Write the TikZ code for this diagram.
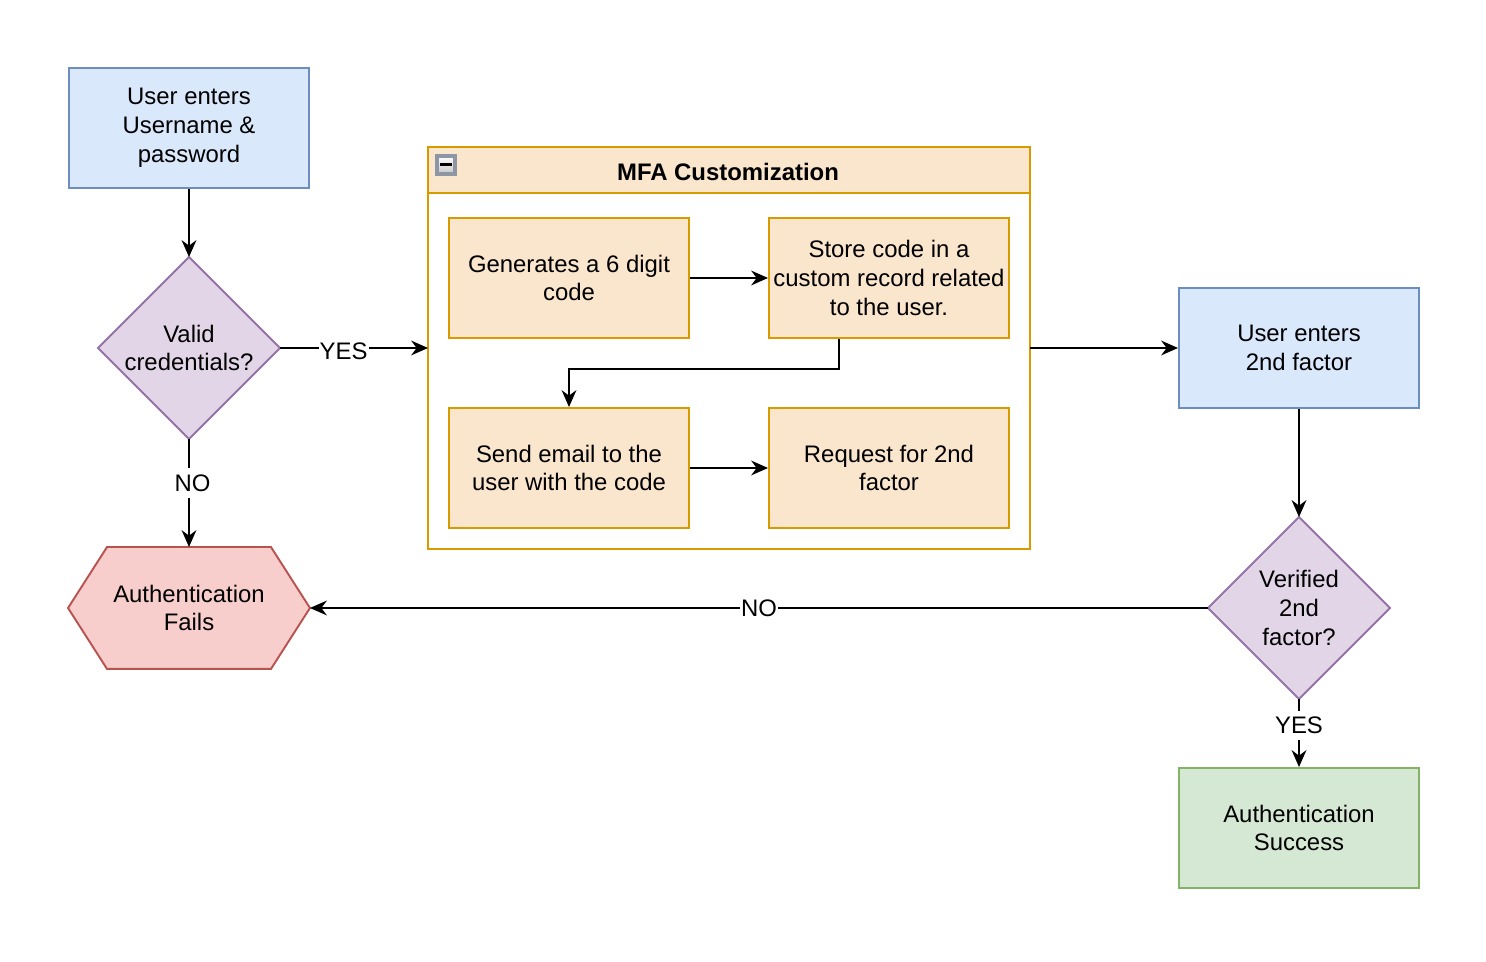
\documentclass[tikz,border=0pt]{standalone}
\usepackage{fontspec}
\setmainfont{Liberation Sans}
\usetikzlibrary{positioning,arrows.meta,calc}
\definecolor{bluefill}{HTML}{DAE8FC}
\definecolor{blueline}{HTML}{6C8EBF}
\definecolor{purplefill}{HTML}{E1D5E7}
\definecolor{purpleline}{HTML}{9673A6}
\definecolor{redfill}{HTML}{F8CECC}
\definecolor{redline}{HTML}{B85450}
\definecolor{greenfill}{HTML}{D5E8D4}
\definecolor{greenline}{HTML}{82B366}
\definecolor{orangefill}{HTML}{FAE5CD}
\definecolor{orangeline}{HTML}{D79B00}
\definecolor{iconline}{HTML}{8C96A5}

\begin{document}
\begin{tikzpicture}[>={Stealth[length=4.8pt,width=4.2pt]}, line width=0.55pt,
    every node/.style={font=\fontsize{6.8pt}{8.2pt}\selectfont, align=center, inner sep=0pt},
    box/.style={draw, minimum width=2.4cm, minimum height=1.2cm},
    bluebox/.style={box, fill=bluefill, draw=blueline},
    greenbox/.style={box, fill=greenfill, draw=greenline},
    orangebox/.style={box, fill=orangefill, draw=orangeline},
    decision/.style={minimum width=1.8cm, minimum height=1.8cm},
    hexbox/.style={minimum width=2.4cm, minimum height=1.2cm},
    lbl/.style={fill=white, inner xsep=0.3pt, inner ysep=1.8pt}]
  \useasboundingbox (0,0) rectangle (14.86,-9.62);

  % left column
  \node[bluebox] (login) at (1.89,-1.28) {User enters\\Username \&\\password};
  \node[decision] (valid) at (1.89,-3.48) {};
  \node[hexbox] (fails) at (1.89,-6.08) {};

  % MFA container
  \node[minimum width=6cm, minimum height=4cm] (mfa) at (7.29,-3.48) {};
  \draw[orangeline, fill=white] (mfa.north west) rectangle (mfa.south east);
  \draw[orangeline, fill=orangefill] (mfa.north west) rectangle ($(mfa.north east)+(0,-0.46)$);
  \node[font=\fontsize{6.8pt}{8.2pt}\selectfont\bfseries] (mfatitle) at (7.28,-1.72) {MFA Customization};
  \draw[iconline, line width=1pt, top color=white, bottom color=gray!45]
    ($(mfa.north west)+(0.09,-0.09)$) rectangle ($(mfa.north west)+(0.27,-0.27)$);
  \draw[black, line width=1pt] ($(mfa.north west)+(0.12,-0.175)$) -- ($(mfa.north west)+(0.24,-0.175)$);

  \node[orangebox] (gen) at (5.69,-2.78) {Generates a 6 digit\\code};
  \node[orangebox] (store) at (8.89,-2.78) {Store code in a\\custom record related\\to the user.};
  \node[orangebox] (send) at (5.69,-4.68) {Send email to the\\user with the code};
  \node[orangebox] (request) at (8.89,-4.68) {Request for 2nd\\factor};

  % right column
  \node[bluebox] (second) at (12.99,-3.48) {User enters\\2nd factor};
  \node[decision] (verified) at (12.99,-6.08) {};
  \node[greenbox] (success) at (12.99,-8.28) {Authentication\\Success};

  % shapes drawn from the node anchors
  \draw[purpleline, fill=purplefill] (valid.north) -- (valid.east) -- (valid.south) -- (valid.west) -- cycle;
  \draw[purpleline, fill=purplefill] (verified.north) -- (verified.east) -- (verified.south) -- (verified.west) -- cycle;
  \draw[redline, fill=redfill] (fails.west) -- ($(fails.north west)+(0.39,0)$) -- ($(fails.north east)+(-0.39,0)$)
    -- (fails.east) -- ($(fails.south east)+(-0.39,0)$) -- ($(fails.south west)+(0.39,0)$) -- cycle;
  \node (validtext) at (valid) {Valid\\credentials?};
  \node (verifiedtext) at (verified) {Verified\\2nd\\factor?};
  \node (failstext) at (fails) {Authentication\\Fails};

  % connectors
  \draw[->] (login) -- (valid.north);
  \draw[->] (valid.east) -- node[lbl, pos=0.43, yshift=-1pt] {YES} (mfa.west);
  \draw[->] (valid.south) -- node[lbl, pos=0.41, xshift=1pt] {NO} (fails.north);
  \draw[->] (gen) -- (store);
  \draw[->] ([xshift=-0.5cm]store.south) -- ++(0,-0.3) -| (send.north);
  \draw[->] (send) -- (request);
  \draw[->] (mfa.east) -- (second.west);
  \draw[->] (second) -- (verified.north);
  \draw[->] (verified.west) -- node[lbl] {NO} (fails.east);
  \draw[->] (verified.south) -- node[lbl, pos=0.39] {YES} (success);
\end{tikzpicture}
\end{document}
